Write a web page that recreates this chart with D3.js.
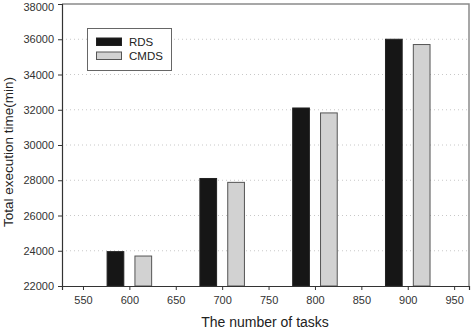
<!DOCTYPE html>
<html><head><meta charset="utf-8">
<script src="https://cdn.jsdelivr.net/npm/d3@7"></script>
<style>body{margin:0;background:#fff}svg{display:block}</style>
</head><body><div id="c"></div>
<script>
const taskCounts = [600, 700, 800, 900];
const seriesNames = ["RDS", "CMDS"];
const rdsValues = [23950, 28100, 32100, 36000];
const cmdsValues = [23700, 27880, 31820, 35700];
const xTicks = [550, 600, 650, 700, 750, 800, 850, 900, 950];
const yTicks = [22000, 24000, 26000, 28000, 30000, 32000, 34000, 36000, 38000];
const barOffsets = [-15, 15];
const barWidthUnits = 18;

const W = 474, H = 331;
const m = {l: 62, r: 5, t: 4, b: 45};
const svg = d3.select("#c").append("svg").attr("width", W).attr("height", H);
const x = d3.scaleLinear().domain([527.4, 966]).range([m.l, W - m.r]);
const y = d3.scaleLinear().domain([22000, 38000]).range([H - m.b, m.t]);
const font = "'Liberation Sans', Arial, sans-serif";
const colors = ["#161616", "#d2d2d2"];
const strokes = ["#222", "#555"];

// grid
svg.append("g").selectAll("line").data(yTicks.slice(1, -1)).join("line")
  .attr("x1", m.l).attr("x2", W - m.r).attr("y1", d => y(d)).attr("y2", d => y(d))
  .attr("stroke", "#c8c8c8").attr("stroke-width", 1).attr("stroke-dasharray", "1,3");

// frame top/right
svg.append("path").attr("d", `M${m.l},${m.t}H${W - m.r}V${H - m.b}`)
  .attr("fill", "none").attr("stroke", "#8a8a8a").attr("stroke-width", 1.5);

// bars
const series = [rdsValues, cmdsValues];
series.forEach((vals, si) => {
  svg.append("g").selectAll("rect").data(taskCounts).join("rect")
    .attr("x", (d) => x(d + barOffsets[si] - barWidthUnits / 2))
    .attr("width", (d) => x(d + barOffsets[si] + barWidthUnits / 2) - x(d + barOffsets[si] - barWidthUnits / 2))
    .attr("y", (d, i) => y(vals[i]))
    .attr("height", (d, i) => y(22000) - y(vals[i]))
    .attr("fill", colors[si]).attr("stroke", strokes[si]).attr("stroke-width", 1);
});

// axes
const xa = svg.append("g").attr("transform", `translate(0,${H - m.b})`)
  .call(d3.axisBottom(x).tickValues(xTicks).tickSize(4).tickPadding(6).tickFormat(d3.format("d")));
const ya = svg.append("g").attr("transform", `translate(${m.l},0)`)
  .call(d3.axisLeft(y).tickValues(yTicks).tickSize(4).tickPadding(4).tickFormat(d3.format("d")));
[xa, ya].forEach(a => {
  a.select(".domain").attr("stroke", "#333").attr("stroke-width", 1.2);
  a.selectAll(".tick line").attr("stroke", "#333");
  a.selectAll("text").attr("font-family", font).attr("font-size", 11).attr("fill", "#333");
});
ya.selectAll(".tick text").filter(d => d === 38000).attr("dy", "0.32em").attr("y", 2.5);

// axis titles
svg.append("text").attr("x", 265).attr("y", 327).attr("text-anchor", "middle")
  .attr("font-family", font).attr("font-size", 14).attr("fill", "#222").text("The number of tasks");
svg.append("text").attr("transform", "translate(13,152) rotate(-90)").attr("text-anchor", "middle")
  .attr("font-family", font).attr("font-size", 13.5).attr("fill", "#222").text("Total execution time(min)");

// legend
const lg = svg.append("g");
lg.append("rect").attr("x", 87.5).attr("y", 28.5).attr("width", 84).attr("height", 42)
  .attr("fill", "#fff").attr("stroke", "#666").attr("stroke-width", 1);
seriesNames.forEach((n, i) => {
  lg.append("rect").attr("x", 96.5).attr("y", 38 + i * 14).attr("width", 25).attr("height", 7.5)
    .attr("fill", colors[i]).attr("stroke", strokes[i]).attr("stroke-width", 1);
  lg.append("text").attr("x", 129).attr("y", 46 + i * 14).attr("font-family", font)
    .attr("font-size", 11.5).attr("fill", "#222").text(n);
});
</script></body></html>
